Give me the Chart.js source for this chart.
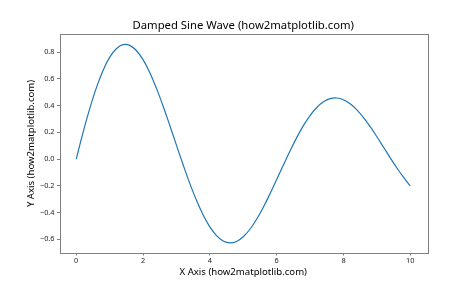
<!DOCTYPE html>
<html>
<head>
<meta charset="utf-8">
<script src="https://cdn.jsdelivr.net/npm/chart.js@4"></script>
<style>
  html, body { margin: 0; padding: 0; background: #fff; }
  #wrap { width: 474px; height: 284px; }
</style>
</head>
<body>
<div id="wrap"><canvas id="myChart" width="474" height="284"></canvas></div>
<script>
// values, step 0.2
var xValues = [0, 0.2, 0.4, 0.6, 0.8, 1.0, 1.2, 1.4, 1.6, 1.8, 2.0, 2.2, 2.4, 2.6, 2.8, 3.0, 3.2, 3.4, 3.6, 3.8,
  4.0, 4.2, 4.4, 4.6, 4.8, 5.0, 5.2, 5.4, 5.6, 5.8, 6.0, 6.2, 6.4, 6.6, 6.8, 7.0, 7.2, 7.4, 7.6, 7.8,
  8.0, 8.2, 8.4, 8.6, 8.8, 9.0, 9.2, 9.4, 9.6, 9.8, 10.0];
var yValues = [0, 0.1947, 0.3742, 0.5318, 0.6622, 0.7614, 0.8266, 0.8567, 0.8518, 0.8134, 0.7445, 0.6488, 0.5313, 0.3975, 0.2532, 0.1045, -0.0424, -0.1819, -0.3087, -0.4184,
  -0.5073, -0.5727, -0.6129, -0.6273, -0.6164, -0.5816, -0.5252, -0.4503, -0.3606, -0.2601, -0.1533, -0.0447, 0.0615, 0.1610, 0.2503, 0.3263, 0.3863, 0.4288, 0.4527, 0.4577,
  0.4445, 0.4143, 0.3689, 0.3108, 0.2426, 0.1676, 0.0888, 0.0097, -0.0667, -0.1375, -0.2001];

var xTicks = [0, 2, 4, 6, 8, 10];
var yTicks = [-0.6, -0.4, -0.2, 0.0, 0.2, 0.4, 0.6, 0.8];
var yTickLabels = ['\u22120.6', '\u22120.4', '\u22120.2', '0.0', '0.2', '0.4', '0.6', '0.8'];

var FONT = "'Noto Sans', sans-serif";
var AXIS_COLOR = '#808080';

var points = [];
for (var i = 0; i < xValues.length; i++) {
  points.push({x: xValues[i], y: yValues[i]});
}

// box round the plot area, like the mpl spines
var frame = {
  id: 'frame',
  afterDraw: function(chart) {
    var a = chart.chartArea;
    var ctx = chart.ctx;
    ctx.save();
    ctx.strokeStyle = AXIS_COLOR;
    ctx.lineWidth = 1;
    ctx.strokeRect(Math.round(a.left) + 0.5, Math.round(a.top) + 0.5,
      Math.round(a.right - a.left), Math.round(a.bottom - a.top));
    ctx.restore();
  }
};

var config = {
  type: 'line',
  data: {
    datasets: [{
      data: points,
      borderColor: '#1f77b4',
      borderWidth: 1.2,
      pointRadius: 0,
      tension: 0.4,
      fill: false
    }]
  },
  options: {
    responsive: false,
    animation: false,
    layout: {padding: {left: 0, right: 47, top: 0, bottom: 0}},
    plugins: {
      legend: {display: false},
      tooltip: {enabled: false},
      title: {
        display: true,
        fullSize: false,
        text: 'Damped Sine Wave (how2matplotlib.com)',
        color: '#000',
        font: {family: FONT, size: 11.3, weight: 'normal'},
        padding: {top: 19.2, bottom: 1.2}
      }
    },
    scales: {
      x: {
        type: 'linear',
        min: -0.5,
        max: 10.5,
        afterBuildTicks: function(scale) {
          scale.ticks = xTicks.map(function(v) { return {value: v}; });
        },
        afterFit: function(scale) { scale.height = 31; },
        grid: {drawOnChartArea: false, drawTicks: true, tickLength: 2.5, color: AXIS_COLOR},
        border: {display: false},
        ticks: {
          color: '#222',
          font: {family: FONT, size: 7.3},
          padding: 1.5,
          maxRotation: 0,
          callback: function(v) { return String(v); }
        },
        title: {
          display: true,
          text: 'X Axis (how2matplotlib.com)',
          color: '#000',
          font: {family: FONT, size: 9.6},
          padding: {top: 0, bottom: 6}
        }
      },
      y: {
        type: 'linear',
        min: -0.703,
        max: 0.937,
        afterBuildTicks: function(scale) {
          scale.ticks = yTicks.map(function(v) { return {value: v}; });
        },
        afterFit: function(scale) { scale.width = 59.5; },
        grid: {drawOnChartArea: false, drawTicks: true, tickLength: 2.5, color: AXIS_COLOR},
        border: {display: false},
        ticks: {
          color: '#222',
          font: {family: FONT, size: 7.3},
          padding: 2.5,
          callback: function(v) {
            var k = yTicks.indexOf(Math.round(v * 10) / 10);
            return k >= 0 ? yTickLabels[k] : '';
          }
        },
        title: {
          display: true,
          text: 'Y Axis (how2matplotlib.com)',
          color: '#000',
          font: {family: FONT, size: 9.6},
          padding: {top: 26, bottom: 0}
        }
      }
    }
  },
  plugins: [frame]
};

var myChart = new Chart(document.getElementById('myChart'), config);
</script>
</body>
</html>
